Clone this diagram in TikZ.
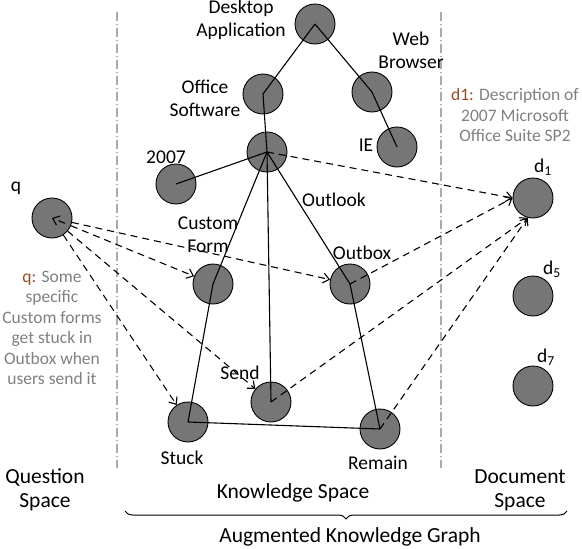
\documentclass[tikz,border=0pt]{standalone}
\usepackage{fontspec}
\setmainfont{Carlito}
\usetikzlibrary{arrows.meta,decorations.pathreplacing,calc}
\definecolor{nodegray}{RGB}{118,118,118}
\definecolor{divgray}{RGB}{170,170,170}
\definecolor{descgray}{RGB}{128,128,128}
\definecolor{brownlab}{RGB}{156,74,34}
\tikzset{
  kn/.style={circle,draw=black,line width=0.9pt,fill=nodegray,minimum size=40pt,inner sep=0pt},
  lab/.style={font=\fontsize{19.5}{23}\selectfont,align=center,inner sep=0pt},
  biglab/.style={font=\fontsize{21.5}{24}\selectfont,align=center,inner sep=0pt},
  desc/.style={font=\fontsize{17.5}{20.5}\selectfont,align=center,text=descgray,inner sep=0pt},
  edge/.style={line width=1.1pt},
  darr/.style={line width=1.1pt,dash pattern=on 7pt off 5pt,-{Straight Barb[length=6pt,width=10pt]}},
  divider/.style={draw=divgray,line width=1.6pt,dash pattern=on 9pt off 3pt on 1pt off 3pt},
}
\begin{document}
\begin{tikzpicture}[x=1pt,y=-1pt]
\useasboundingbox (0,0) rectangle (582,549);
% dividers
\draw[divider] (117,12) -- (117,468);
\draw[divider] (441,12) -- (441,468);
% nodes
\node[kn] (dapp) at (315,24) {};
\node[kn] (web) at (372,92) {};
\node[kn] (office) at (263,94) {};
\node[kn] (ie) at (397,147) {};
\node[kn] (hub) at (267,152) {};
\node[kn] (y2007) at (176,184) {};
\node[kn] (q) at (52,218) {};
\node[kn] (cf) at (213,284) {};
\node[kn] (outbox) at (350,284) {};
\node[kn] (send) at (271,402) {};
\node[kn] (stuck) at (188,422) {};
\node[kn] (remain) at (380,429) {};
\node[kn] (d1) at (533,198) {};
\node[kn] (d5) at (533,296) {};
\node[kn] (d7) at (533,386) {};
% solid edges
\draw[edge] (dapp.center) -- (office.center);
\draw[edge] (dapp.center) -- (web.center);
\draw[edge] (web.center) -- (ie.center);
\draw[edge] (office.center) -- (hub.center);
\draw[edge] (hub.center) -- (y2007.center);
\draw[edge] (hub.center) -- (cf.center);
\draw[edge] (cf.center) -- (stuck.center);
\draw[edge] (hub.center) -- (send.center);
\draw[edge] (hub.center) -- (outbox.center);
\draw[edge] (outbox.center) -- (remain.center);
\draw[edge] (stuck.center) -- (remain.center);
% dashed arrows from q
\draw[darr] (q) -- (cf);
\draw[darr] (q) -- (outbox);
\draw[darr] (q) -- (send);
\draw[darr] (q) -- (stuck);
\draw[darr] ($(q.center)!14pt!(cf.center)$) -- (q.center);
% dashed arrows to d1
\draw[darr] (hub.center) -- (d1.west);
\draw[darr] (outbox.center) -- (d1.west);
\draw[darr] (send.center) -- (d1.-105);
\draw[darr] (remain.center) -- (d1.-105);
% labels
\node[lab] (ldapp) at (241,20) {Desktop\\Application};
\node[lab] (lweb) at (411,50) {Web\\Browser};
\node[lab] (loffice) at (205,98) {Office\\Software};
\node[lab] (lie) at (366,145) {IE};
\node[lab] (l2007) at (166,157) {2007};
\node[lab] (loutlook) at (334,200) {Outlook};
\node[lab] (lcf) at (208,235) {Custom\\Form};
\node[lab] (loutbox) at (362,253) {Outbox};
\node[lab] (lsend) at (240,373) {Send};
\node[lab] (lstuck) at (182,458) {Stuck};
\node[lab] (lremain) at (378,463) {Remain};
\node[lab] (lq) at (16,188) {q};
\node[lab] (ld1) at (543,167) {d\textsubscript{1}};
\node[lab] (ld5) at (552,269) {d\textsubscript{5}};
\node[lab] (ld7) at (546,357) {d\textsubscript{7}};
% descriptions
\node[desc] (dq) at (52,328) {\textcolor{brownlab}{q:} Some\\specific\\Custom forms\\get stuck in\\Outbox when\\users send it};
\node[desc] (dd1) at (515,115) {\textcolor{brownlab}{d1:} Description of\\2007 Microsoft\\Office Suite SP2};
% spaces
\node[biglab] (qs) at (45,490) {Question\\Space};
\node[biglab] (ks) at (293,493) {Knowledge Space};
\node[biglab] (ds) at (520,490) {Document\\Space};
\coordinate (bl) at (125,511);
\coordinate (br) at (567,511);
\draw[line width=1pt,decorate,decoration={brace,mirror,amplitude=8pt}] (bl) -- (br);
\node[biglab] (akg) at (350,537) {Augmented Knowledge Graph};
\end{tikzpicture}
\end{document}
